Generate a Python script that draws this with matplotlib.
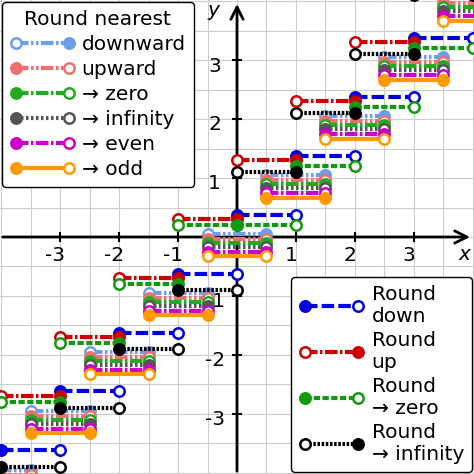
import matplotlib
matplotlib.use("Agg")
import matplotlib.pyplot as plt
from matplotlib.legend_handler import HandlerBase
from matplotlib.lines import Line2D

directed_names = ["Round\ndown", "Round\nup", "Round\n→ zero", "Round\n→ infinity"]
directed_colors = ["#0000dd", "#cc0000", "#119911", "#000000"]
directed_styles = [(0, (3, 1)), (0, (3, 0.6, 0.6, 0.6)), (0, (1.5, 0.6)), (0, (0.6, 0.4))]
directed_offsets = [0.38, 0.30, 0.20, 0.10]

nearest_names = ["downward", "upward", "→ zero", "→ infinity", "→ even", "→ odd"]
nearest_colors = ["#6d9eeb", "#f07070", "#22aa22", "#555555", "#cc00cc", "#ff9900"]
nearest_styles = [(0, (3, 0.6, 0.6, 0.6, 0.6, 0.6)), (0, (3, 0.6, 0.6, 0.6, 0.6, 0.6)),
                  (0, (3, 0.6, 0.6, 0.6)), (0, (0.6, 0.6)), (0, (3, 0.6, 0.6, 0.6)), "-"]
nearest_offsets = [0.05, -0.03, -0.10, -0.17, -0.25, -0.33]

directed_n = list(range(-4, 4))
nearest_n = list(range(-4, 5))
tick_vals = [-3, -2, -1, 1, 2, 3]

LW = 3
MS = 7.5
FS = 14.5

def seg(ax, x0, x1, y, color, ls, lf, rf, z):
    ax.plot([x0, x1], [y, y], color=color, ls=ls, lw=LW, zorder=z, solid_capstyle="butt")
    for x, f in ((x0, lf), (x1, rf)):
        ax.plot([x], [y], "o", ms=MS, mec=color, mew=1.8,
                mfc=color if f else "white", zorder=z + 0.5)

fig = plt.figure(figsize=(4.74, 4.74), dpi=100)
ax = fig.add_axes([0, 0, 1, 1])
ax.set_xlim(-4.02, 4.02)
ax.set_ylim(-4.02, 4.02)
for s in ax.spines.values():
    s.set_visible(False)
ax.set_xticks([]); ax.set_yticks([])
for v in [i * 0.5 for i in range(-8, 9)]:
    ax.axvline(v, color="#cccccc", lw=0.8, zorder=0)
    ax.axhline(v, color="#cccccc", lw=0.8, zorder=0)
ax.annotate("", xy=(4.0, 0), xytext=(-4.02, 0),
            arrowprops=dict(arrowstyle="->", lw=2, color="black", mutation_scale=22), zorder=1)
ax.annotate("", xy=(0, 4.0), xytext=(0, -4.02),
            arrowprops=dict(arrowstyle="->", lw=2, color="black", mutation_scale=22), zorder=1)
for t in tick_vals:
    ax.plot([t, t], [-0.06, 0.06], color="black", lw=1.5, zorder=1)
    ax.plot([-0.06, 0.06], [t, t], color="black", lw=1.5, zorder=1)
    ax.text(t - 0.08, -0.32, str(t), ha="center", va="center", fontsize=FS, zorder=1)
    ax.text(-0.38, t - 0.1, str(t), ha="center", va="center", fontsize=FS, zorder=1)
ax.text(3.85, -0.3, "x", fontsize=FS, style="italic", ha="center", va="center")
ax.text(-0.4, 3.85, "y", fontsize=FS, style="italic", ha="center", va="center")

for k in range(6):
    for n in nearest_n:
        if k == 0: lf, rf = False, True
        elif k == 1: lf, rf = True, False
        elif k == 2: lf, rf = (False, True) if n > 0 else ((True, False) if n < 0 else (True, True))
        elif k == 3: lf, rf = (True, False) if n > 0 else ((False, True) if n < 0 else (False, False))
        elif k == 4: lf = rf = (n % 2 == 0)
        else: lf = rf = (n % 2 != 0)
        seg(ax, n - 0.5, n + 0.5, n + nearest_offsets[k], nearest_colors[k],
            nearest_styles[k], lf, rf, 2 + k * 0.1)

for k in range(4):
    for n in directed_n:
        if k == 0: val, lf, rf = n, True, False
        elif k == 1: val, lf, rf = n + 1, False, True
        elif k == 2:
            val, lf, rf = (n, True, False) if n >= 0 else (n + 1, False, True)
        else:
            val, lf, rf = (n + 1, False, True) if n >= 0 else (n, True, False)
        seg(ax, n, n + 1, val + directed_offsets[k], directed_colors[k],
            directed_styles[k], lf, rf, 4 + k * 0.1)

class Entry:
    def __init__(self, color, ls, lf, rf):
        self.color, self.ls, self.lf, self.rf = color, ls, lf, rf

class EntryHandler(HandlerBase):
    def create_artists(self, legend, h, xd, yd, w, ht, fs, trans):
        y = yd + ht / 2
        x0, x1 = xd + 4, xd + w - 4
        arts = [Line2D([x0, x1], [y, y], color=h.color, ls=h.ls, lw=LW, transform=trans)]
        for x, f in ((x0, h.lf), (x1, h.rf)):
            arts.append(Line2D([x], [y], marker="o", ms=MS, mec=h.color, mew=1.8,
                               mfc=h.color if f else "white", transform=trans))
        return arts

hm = {Entry: EntryHandler()}
nfill = [(False, True), (True, False), (True, False), (True, False), (True, False), (True, False)]
nh = [Entry(nearest_colors[k], nearest_styles[k], *nfill[k]) for k in range(6)]
leg1 = ax.legend(nh, nearest_names, handler_map=hm, loc="upper left", title="Round nearest",
                 fontsize=FS, title_fontsize=FS, framealpha=1, edgecolor="black",
                 handlelength=3.2, borderaxespad=0.1, labelspacing=0.3, handletextpad=0.35)
leg1.set_zorder(10)
ax.add_artist(leg1)
dfill = [(True, False), (False, True), (True, False), (False, True)]
dh = [Entry(directed_colors[k], directed_styles[k], *dfill[k]) for k in range(4)]
leg2 = ax.legend(dh, directed_names, handler_map=hm, loc="lower right", fontsize=FS,
                 framealpha=1, edgecolor="black", handlelength=3.2, borderaxespad=0.1,
                 labelspacing=0.25, handletextpad=0.4)
leg2.set_zorder(10)
fig.savefig("out.png", dpi=100)
